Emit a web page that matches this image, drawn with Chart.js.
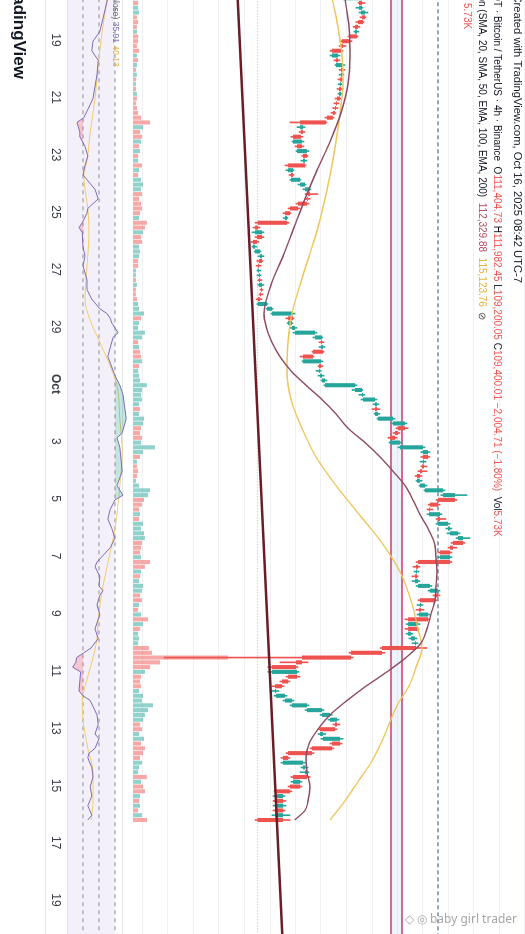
<!DOCTYPE html>
<html>
<head>
<meta charset="utf-8">
<script src="https://cdn.jsdelivr.net/npm/chart.js@4.4.1/dist/chart.umd.min.js"></script>
<style>
  html, body { margin: 0; padding: 0; background: #fff; }
  #wrap { position: relative; width: 525px; height: 934px; overflow: hidden; background: #fff; }
  /* the TradingView screenshot was turned a quarter turn clockwise */
  #chart { position: absolute; left: 0; top: 0; transform-origin: 0 0; transform: translate(525px, 0) rotate(90deg); }
  #mark { position: absolute; right: 8px; top: 910px; font: 12px "Noto Sans", sans-serif; color: rgba(150,150,150,0.85); white-space: nowrap; }
</style>
</head>
<body>
<div id="wrap">
  <canvas id="chart" width="934" height="525"></canvas>
  <div id="mark">&#9671; &#9678; baby girl trader</div>
</div>
<script>
// BTCUSDT 4h (Binance), candles Sep 17 13:00 -> Oct 16 05:00, UTC-7
const open = [
  116160,117660,117420,117580,117890,117740,117340,117100,117260,116710,
  116160,116000,115290,115760,115600,116160,116000,116080,115920,116000,
  115840,115920,115680,115600,115520,115360,114810,112760,112990,112830,
  112200,112910,112520,113310,112990,113150,111810,112200,112040,112760,
  113150,113550,113390,113310,112600,111960,111570,111730,109430,109200,
  109750,109350,109040,109200,109590,109750,109510,109430,109510,109590,
  109510,109750,109670,109590,109430,110150,110540,112200,111810,112120,
  112360,113940,114490,114420,114570,113780,112990,114420,114260,114340,
  114490,114730,117100,117660,117740,118690,118840,118690,118920,120110,
  121060,120500,120270,119870,120660,122480,122880,122480,122560,122400,
  122240,122010,122240,122640,124060,125010,123670,123030,122960,123830,
  123670,124460,124620,125250,125650,124850,124620,123830,124620,122090,
  121930,122010,121850,122090,123030,123670,123430,122240,122320,122170,
  122880,121300,122090,121300,121530,121850,121930,119240,116790,112910,
  112440,110540,112520,111810,111330,110780,110860,111570,112120,113310,
  114490,115130,115680,115520,114340,114570,115920,115290,113700,111810,
  111410,112990,113150,113310,112200,112760,111960,110860,111410,110780,
  111410,110780,111404.73
];
const high = [
  117970,117890,117740,118130,117970,117820,117500,117420,117340,116870,
  116390,116160,115920,115920,116310,116310,116230,116160,116080,116160,
  116080,116000,115840,115760,115600,115440,114890,113150,113150,112990,
  113070,113070,113470,113390,113310,113230,112280,112280,112830,113230,
  113620,114180,113550,113470,112760,112040,111810,111890,109590,109910,
  109910,109510,109350,109670,109910,109830,109670,109670,109670,109750,
  109910,109830,109830,109750,110220,110620,112360,112280,112200,112520,
  114100,114570,114650,114730,114650,113860,114570,114570,114420,114650,
  114890,117260,117740,117890,118840,119000,119080,119080,120270,121220,
  121300,120660,120430,120820,122640,123030,123030,122720,122800,122800,
  122400,122400,122800,124220,125960,125170,123830,123270,123980,124300,
  124620,124770,125410,126200,125800,125170,124770,124770,124770,122240,
  122170,122090,122240,123190,123830,123830,123590,122480,122560,123030,
  123030,122240,122170,121690,122010,122090,122800,119480,116950,113390,
  112600,112680,112760,111960,111490,111090,111730,112280,113470,114650,
  115290,115840,115920,115680,114810,116160,116080,115440,113860,111960,
  113150,113390,113470,113550,112910,112910,112120,111570,111650,111650,
  111570,111960,111982.45
];
const low = [
  116000,117340,117180,117420,117500,117180,116950,117020,116550,115920,
  115840,115130,115130,115440,115520,115840,115840,115760,115760,115680,
  115760,115520,115440,115360,115210,114730,111960,112520,112680,112040,
  112120,112360,112440,112910,112830,111570,111650,111890,111960,112600,
  112990,113150,113150,112440,111810,111410,111410,109200,109040,108960,
  109200,108880,108960,109120,109430,109350,109280,109350,109350,109430,
  109430,109590,109510,109280,109350,110070,110460,111650,111730,111960,
  112200,113780,114260,114260,113700,112760,112910,114180,114020,114180,
  114420,114650,116870,117420,117580,118530,118450,118610,118840,119950,
  120350,120110,119710,119790,120500,122320,122320,122240,122320,122090,
  121850,121930,122170,122560,123900,123510,122880,122800,122800,123510,
  123510,124300,124380,125090,124700,124460,123670,123670,121930,121690,
  121770,121610,121610,121930,122880,123270,122090,122010,121930,122010,
  121060,121140,121060,121140,121370,121610,119080,116630,102000,111170,
  110220,110220,111650,111170,110540,110380,110700,111410,111960,113150,
  114340,114970,115360,114180,114180,114420,115130,113550,111650,111250,
  111250,112830,112760,112040,112040,111810,110700,110620,110620,110620,
  110620,110540,109200.05
];
const close = [
  117660,117420,117660,117890,117660,117340,117100,117260,116710,116080,
  116000,115290,115760,115600,116160,116000,116080,115920,116000,115840,
  116000,115680,115600,115520,115360,114890,112760,112990,112830,112200,
  112910,112520,113310,112990,113150,111810,112200,112040,112760,113150,
  113550,113390,113310,112600,111960,111570,111730,109430,109200,109750,
  109350,109040,109200,109590,109750,109510,109430,109510,109590,109510,
  109750,109670,109590,109430,110150,110540,112200,111810,112120,112360,
  113940,114490,114420,114570,113780,112990,114420,114260,114340,114490,
  114730,117100,117660,117740,118690,118840,118690,118920,120110,121060,
  120500,120270,119870,120660,122480,122880,122480,122560,122400,122240,
  122010,122240,122640,124060,125010,123670,123030,122960,123830,123670,
  124460,124620,125250,125650,124850,124620,123830,124620,122090,121930,
  122010,121850,122090,123030,123670,123430,122240,122320,122170,122880,
  121300,122090,121300,121530,121850,121930,119240,116790,112910,112440,
  110540,112520,111810,111330,110780,110860,111570,112120,113310,114490,
  115130,115680,115520,114340,114570,115920,115290,113700,111810,111410,
  112990,113150,113310,112200,112760,111960,110860,111410,110780,111410,
  110780,111410,109400.01
];
// volume in thousands of BTC
const volumeK = [
  2.5,2.1,2.1,2.5,1.6,2.1,1.6,1.6,2.1,2.1,
  1.6,2.5,1.6,2.1,1.6,1.2,1.6,1.2,1.2,1.2,
  1.6,1.6,1.2,1.6,2.1,3.3,7.0,4.1,2.9,3.7,
  3.3,2.5,2.9,2.1,2.1,3.7,2.5,2.1,3.3,4.1,
  3.3,3.7,2.5,3.3,3.7,2.9,2.5,5.7,4.9,4.1,
  3.3,3.7,2.5,2.9,2.5,2.1,2.1,1.2,1.2,1.2,
  1.6,1.2,1.2,1.6,2.1,2.5,4.5,3.3,2.5,2.1,
  4.9,3.7,2.1,2.5,2.9,3.3,3.7,2.5,2.1,2.5,
  2.9,5.7,3.7,3.3,3.7,2.5,2.9,2.5,4.5,4.1,
  3.3,2.9,3.7,3.3,9.0,4.1,2.9,1.6,1.6,2.1,
  1.6,1.2,2.5,7.0,6.2,4.5,3.7,2.5,2.9,2.5,
  4.1,3.3,4.5,4.9,3.7,3.3,2.9,3.3,7.0,4.9,
  3.3,2.9,2.5,4.1,3.7,2.9,3.7,2.5,2.1,3.3,
  6.2,4.1,2.9,2.1,2.5,2.1,6.6,7.8,39.0,11.1,
  7.0,4.9,3.3,2.9,3.3,2.5,4.1,3.7,8.2,6.2,
  4.9,4.1,2.9,3.7,2.5,4.5,3.3,4.9,4.1,2.9,
  3.7,2.5,2.1,5.7,3.3,4.1,4.9,2.9,2.5,2.9,
  2.1,3.7,5.73
];

// moving average ribbon (candle index, price)
const maFastIdx = [0,6,12,18,24,30,36,42,48,54,60,66,69,72,75,78,81,84,87,90,93,96,99,102,105,108,111,114,117,120,123,126,129,132,135,138,141,144,147,150,153,156,159,162,165,168,170,172];
const maFastVal = [116310,116630,116710,116550,116000,115130,114100,113150,112280,111410,110460,109910,110110,110540,111170,112040,113230,114490,115600,116550,117890,119080,120110,121060,121690,122240,122880,123380,123510,123590,123510,123430,123110,122800,122320,121140,119630,117970,116470,115130,114180,113470,113230,113310,113550,113390,113150,112329.88];
const maSlowIdx = [0,6,12,18,24,30,36,42,48,54,60,66,72,78,84,90,96,102,108,114,120,126,132,136,140,144,148,152,156,160,164,168,172];
const maSlowVal = [115290,115760,116080,116160,115920,115600,115210,114730,114180,113470,112760,112120,111810,111730,112040,112910,114020,115600,117420,119240,120660,121530,122090,122400,121930,121370,120430,119790,119160,118370,117340,116310,115123.76];

// RSI 14 and its moving average
const rsiIdx = [0,7,9,11,13,16,21,24,25,26,28,29,31,33,35,37,38,40,42,43,44,45,47,48,49,52,54,56,59,61,63,65,66,67,68,70,71,75,79,81,83,88,91,92,94,99,102,104,105,107,109,111,113,115,118,119,121,123,124,125,127,129,132,134,136,137,138,139,140,141,145,146,147,150,152,154,155,157,158,159,161,163,165,167,169,171,172];
const rsiVal = [61,51,42.5,41,49,47.5,42.5,34,31,22.5,26,26,32.5,36,32.5,30,35,45,49,42.5,36,35,29,25,29,30,32.5,30,35,35,41,51,60,64,66,74,67.5,61,70,76,80,84,79,72.5,76,79,72.5,80,70,64,61,66,70,64,47.5,45,51,50,55,51,47.5,51,45,49,40,31,22,21,17,27,25,30,39,47.5,49,45,50,45,37.5,36,41,42.5,39,41,36,41,35.91];
const rsiMaIdx = [0,7,14,21,28,34,37,40,44,49,56,63,67,72,77,81,88,95,102,111,116,123,130,134,139,144,147,151,157,162,168,172];
const rsiMaVal = [60,54,49,45,39,35,31,32.5,36,37.5,35,32.5,38,51,64,72.5,76,79,76,70,64,55,49,47.5,41,32.5,29,30,36,42.5,42.5,40.13];
const rsiLevels = [70, 50, 30];

// drawings on the price pane
const lastPrice = 109400.01;
const zoneTop = 120830, zoneBottom = 119950;
const dashedLevel = 123670;
const trendIdx = [0, 196];
const trendVal = [107820, 111360];

// time axis: Sep 19 ... Oct 19, every two days (candle index units)
const tickPos = [8.75,20.75,32.75,44.75,56.75,68.75,80.75,92.75,104.75,116.75,128.75,140.75,152.75,164.75,176.75,188.75];
const tickLabels = ['19','21','23','25','27','29','Oct','3','5','7','9','11','13','15','17','19'];

const UP = '#26a69a', DOWN = '#ef5350';
const FONT = '"Liberation Sans", Arial, sans-serif';
const TXT = '#131722';

// pane geometry of the (unrotated) screenshot
const AREA_TOP = 0, AREA_BOTTOM = 459;
function span(v1, p1, v2, p2) {
  const k = (v2 - v1) / (p2 - p1);
  return { min: v1 + (AREA_BOTTOM - p1) * k, max: v1 + (AREA_TOP - p1) * k };
}
const priceRange = span(102000, 361, 126200, 55);
const volRange = span(0, 392, 10, 392 - 10 / 0.41);
const rsiRange = span(30, 442, 70, 410);
const PX_PER_CANDLE = 4.778;
const xMin = 1.8 / PX_PER_CANDLE, xMax = (934 + 1.8) / PX_PER_CANDLE;

const idx = open.map((_, i) => i);
const colors = idx.map(i => close[i] >= open[i] ? UP : DOWN);
const volColors = idx.map(i => close[i] >= open[i] ? 'rgba(38,166,154,0.5)' : 'rgba(239,83,80,0.5)');
const pts = (xs, ys) => xs.map((x, i) => ({ x, y: ys[i] }));
const flat = y => [{ x: -5, y }, { x: 205, y }];

const lineBase = { type: 'line', pointRadius: 0, fill: false, borderWidth: 1 };

const datasets = [
  { ...lineBase, label: 'trend', data: pts(trendIdx, trendVal), borderColor: '#6b1d26', borderWidth: 2.5, order: 0 },
  { ...lineBase, label: 'MA fast', data: pts(maFastIdx, maFastVal), borderColor: '#8e4b62', borderWidth: 1.4, cubicInterpolationMode: 'monotone', order: 1 },
  { ...lineBase, label: 'MA slow', data: pts(maSlowIdx, maSlowVal), borderColor: '#efc55c', borderWidth: 1.4, cubicInterpolationMode: 'monotone', order: 2 },
  { type: 'bar', label: 'body', data: idx.map(i => ({ x: i, y: [Math.min(open[i], close[i]), Math.max(open[i], close[i])] })),
    backgroundColor: colors, grouped: false, barPercentage: 0.86, categoryPercentage: 1, minBarLength: 1, order: 3 },
  { type: 'bar', label: 'wick', data: idx.map(i => ({ x: i, y: [low[i], high[i]] })),
    backgroundColor: colors, grouped: false, barThickness: 1, order: 4 },
  { type: 'bar', label: 'volume', yAxisID: 'yVol', data: pts(idx, volumeK),
    backgroundColor: volColors, grouped: false, barPercentage: 0.86, categoryPercentage: 1, order: 5 },
  { ...lineBase, label: 'last', data: flat(lastPrice), borderColor: 'rgba(239,83,80,0.55)', borderDash: [1, 2], order: 6 },
  { ...lineBase, label: 'dashed', data: flat(dashedLevel), borderColor: '#7189a8', borderWidth: 1.5, borderDash: [4, 3], order: 7 },
  { ...lineBase, label: 'zone top', data: flat(zoneTop), borderColor: '#d9698c', borderWidth: 2,
    fill: '+1', backgroundColor: 'rgba(120,160,230,0.12)', order: 8 },
  { ...lineBase, label: 'zone bottom', data: flat(zoneBottom), borderColor: '#d9698c', borderWidth: 2, order: 9 },
  // RSI pane
  { ...lineBase, label: 'RSI', yAxisID: 'yRsi', data: pts(rsiIdx, rsiVal), borderColor: '#7e6bb5',
    fill: { target: { value: 70 }, above: 'rgba(38,166,154,0.28)', below: 'rgba(0,0,0,0)' }, order: 10 },
  { ...lineBase, label: 'RSI low', yAxisID: 'yRsi', data: pts(rsiIdx, rsiVal), borderWidth: 0,
    fill: { target: { value: 30 }, above: 'rgba(0,0,0,0)', below: 'rgba(242,54,69,0.22)' }, order: 11 },
  { ...lineBase, label: 'RSI MA', yAxisID: 'yRsi', data: pts(rsiMaIdx, rsiMaVal), borderColor: '#f1cc6a',
    cubicInterpolationMode: 'monotone', order: 12 },
  ...rsiLevels.map((v, k) => ({ ...lineBase, label: 'lvl' + v, yAxisID: 'yRsi', data: flat(v),
    borderColor: '#8a8d96', borderDash: [4, 4], order: 13 + k })),
  { ...lineBase, label: 'RSI band', yAxisID: 'yRsi', data: flat(rsiLevels[0]), borderWidth: 0,
    fill: { value: 11 }, backgroundColor: 'rgba(126,87,194,0.09)', order: 20 }
];

function drawRow(c, segs, x, y) {
  segs.forEach(([t, col]) => { c.fillStyle = col; c.fillText(t, x, y); x += c.measureText(t).width; });
}

const overlay = {
  id: 'overlay',
  beforeDatasetsDraw(chart) {
    const c = chart.ctx;
    c.save();
    c.strokeStyle = '#e3e5ea';
    c.lineWidth = 1;
    [402.5, 457.5, 479.5].forEach(y => { c.beginPath(); c.moveTo(0, y); c.lineTo(934, y); c.stroke(); });
    c.restore();
  },
  afterDraw(chart) {
    const c = chart.ctx;
    const red = '#ef5350';
    c.save();
    c.textBaseline = 'middle';
    c.font = '11.2px ' + FONT;
    c.textAlign = 'right';
    c.fillStyle = TXT;
    c.fillText('Created with TradingView.com, Oct 16, 2025 08:42 UTC-7', 283, 8);
    c.textAlign = 'left';
    c.font = '10px ' + FONT;
    drawRow(c, [['BTCUSDT · Bitcoin / TetherUS · 4h · Binance  ', TXT], ['O', TXT], ['111,404.73', red], [' H', TXT], ['111,982.45', red],
      [' L', TXT], ['109,200.05', red], [' C', TXT], ['109,400.01', red], [' −2,004.71 (−1.80%)', red], ['  Vol', TXT], ['5.73K', red]],
      1 - c.measureText('BTCUSD').width, 28);
    drawRow(c, [['Moving Average Ribbon (SMA, 20, SMA, 50, EMA, 100, EMA, 200)', TXT], ['  112,329.88', '#b0485e'], ['  115,123.76', '#e2b035'], ['  ⊘', '#555']],
      1 - c.measureText('Moving Average Ribbo').width, 43);
    drawRow(c, [['Vol · BTC  ', TXT], ['5.73K', red]], 3 - c.measureText('Vol · BTC  ').width, 58);
    c.font = '8.5px ' + FONT;
    drawRow(c, [['RSI 14 (close) ', '#555a66'], ['35.91', '#7e6bb5'], [' ', TXT], ['40.13', '#e2b035']],
      1 - c.measureText('RSI 14 (c').width, 410);
    c.font = 'bold 17px ' + FONT;
    c.fillStyle = TXT;
    c.textAlign = 'right';
    c.fillText('TradingView', 79, 506);
    c.restore();
  }
};

new Chart(document.getElementById('chart'), {
  type: 'bar',
  data: { datasets },
  options: {
    responsive: false,
    devicePixelRatio: 1,
    animation: false,
    events: [],
    layout: { padding: { left: 0, right: 0, top: 0, bottom: 44 }, autoPadding: false },
    plugins: { legend: { display: false }, tooltip: { enabled: false } },
    scales: {
      x: {
        type: 'linear', min: xMin, max: xMax, offset: false,
        grid: { display: false }, border: { display: false },
        afterBuildTicks: s => { s.ticks = tickPos.map(v => ({ value: v })); },
        afterFit: s => { s.height = 22; },
        ticks: {
          autoSkip: false, maxRotation: 0, padding: -5, color: '#3b3e48',
          font: ctx => ({ family: FONT, size: 12, weight: tickLabels[ctx.index] === 'Oct' ? 'bold' : 'normal' }),
          callback: (v, i) => tickLabels[i]
        }
      },
      y: {
        position: 'right', min: priceRange.min, max: priceRange.max,
        border: { display: false },
        grid: { drawTicks: false, color: ctx => ctx.tick && ctx.tick.value >= 100000 ? '#eff1f4' : 'rgba(0,0,0,0)' },
        ticks: { display: false, stepSize: 2000 }
      },
      yVol: { display: false, min: volRange.min, max: volRange.max },
      yRsi: { display: false, min: rsiRange.min, max: rsiRange.max }
    }
  },
  plugins: [overlay]
});
</script>
</body>
</html>
